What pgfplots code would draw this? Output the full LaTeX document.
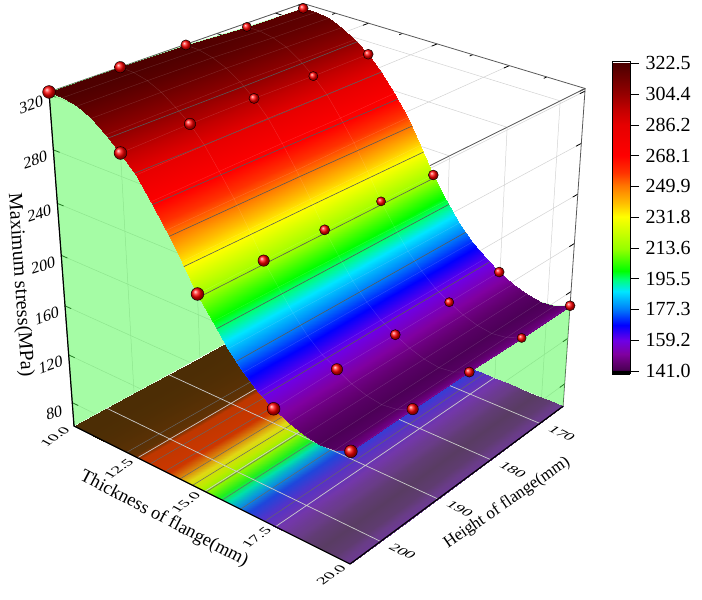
\documentclass[border=0pt]{standalone}
\usepackage{fontspec}
\setmainfont{Liberation Serif}
\usepackage{pgfplots}
\usepackage{pgfplotstable}
\pgfplotsset{compat=1.18}
\usetikzlibrary{plotmarks}

% camera fit from the box corners, the reference is a perspective view
\makeatletter
\def\perspoint#1#2#3{\begingroup
  \pgfmathsetmacro\pa{((#1)-10)/10}%
  \pgfmathsetmacro\pb{(205-(#2))/40}%
  \pgfmathsetmacro\pc{((#3)-60)/262}%
  \pgfmathsetmacro\pw{1-0.1002*\pa+0.1525*\pb-0.09*\pc}%
  \pgfmathsetmacro\px{(74+241*\pa+277.5*\pb-29.4*\pc)/\pw}%
  \pgfmathsetmacro\py{600-(426+81.5*\pa-80*\pb-342.3*\pc)/\pw}%
  \global\pgf@x=\px pt\relax
  \global\pgf@y=\py pt\relax
\endgroup}
\makeatother

\pgfplotsset{
  colormap={stress}{
    rgb255(0pt)=(70,0,80); rgb255(5pt)=(100,0,115); rgb255(10pt)=(128,0,160); rgb255(18pt)=(110,0,230);
    rgb255(27pt)=(0,0,255); rgb255(36pt)=(0,120,250); rgb255(47pt)=(0,230,255); rgb255(54pt)=(0,255,120);
    rgb255(59pt)=(0,255,0); rgb255(72pt)=(150,255,0); rgb255(91pt)=(255,255,0); rgb255(99pt)=(255,190,0);
    rgb255(109pt)=(255,120,0); rgb255(117pt)=(255,50,0); rgb255(127pt)=(255,0,0); rgb255(145pt)=(230,0,0);
    rgb255(154pt)=(195,0,0); rgb255(163pt)=(150,0,0); rgb255(174pt)=(105,0,0); rgb255(181.5pt)=(75,0,0)},
  colormap={floor}{
    rgb255(0pt)=(85,60,90); rgb255(5pt)=(105,60,135); rgb255(11pt)=(115,55,170); rgb255(19pt)=(85,50,200);
    rgb255(29pt)=(30,70,220); rgb255(39pt)=(10,150,220); rgb255(49pt)=(0,225,170); rgb255(59pt)=(30,240,30);
    rgb255(72pt)=(140,245,0); rgb255(84pt)=(190,235,0); rgb255(99pt)=(225,215,20); rgb255(114pt)=(215,120,10);
    rgb255(124pt)=(205,55,0); rgb255(153pt)=(190,55,0); rgb255(159pt)=(95,50,5); rgb255(181.5pt)=(75,45,5)},
  colormap={whitemesh}{color=(white) color=(white)},
}

\pgfplotstableread{
t h z
10 165 318
10 175 319
10 185 321.5
10 195 322
10 205 322
10.5 165 318
10.5 175 319
10.5 185 321
10.5 195 321.5
10.5 205 321.5
11 165 316.5
11 175 317
11 185 318.5
11 195 319
11 205 319
11.5 165 312
11.5 175 313
11.5 185 314
11.5 195 314
11.5 205 314
12 165 305.5
12 175 306
12 185 307
12 195 306.5
12 205 306
12.5 165 297
12.5 175 297
12.5 185 298
12.5 195 298
12.5 205 297
13 165 286
13 175 286
13 185 286.5
13 195 286
13 205 285
13.5 165 272
13.5 175 271
13.5 185 271
13.5 195 270.5
13.5 205 270
14 165 255.5
14 175 255
14 185 254
14 195 254
14 205 253.5
14.5 165 236.5
14.5 175 236
14.5 185 235.5
14.5 195 235
14.5 205 235
15 165 215.5
15 175 215.5
15 185 215.5
15 195 215.5
15 205 215.5
15.5 165 198
15.5 175 198.5
15.5 185 199
15.5 195 199.5
15.5 205 199.5
16 165 183
16 175 183
16 185 183.5
16 195 184
16 205 184
16.5 165 171
16.5 175 171
16.5 185 171
16.5 195 171
16.5 205 171
17 165 161.5
17 175 161
17 185 161
17 195 161
17 205 161
17.5 165 154
17.5 175 154
17.5 185 154
17.5 195 154.5
17.5 205 153.5
18 165 148
18 175 148
18 185 148
18 195 148
18 205 148
18.5 165 144
18.5 175 144
18.5 185 144
18.5 195 144
18.5 205 144
19 165 142
19 175 142
19 185 142
19 195 142
19 205 142
19.5 165 143.5
19.5 175 143.5
19.5 185 143.5
19.5 195 143.5
19.5 205 143.5
20 165 148
20 175 148
20 185 148.5
20 195 149
20 205 148
}\surfdata

% iso-stress lines, at the colour bar ticks
\pgfplotstableread{
t h z
12.09 165 304.4
12.12 185 304.4
12.08 205 304.4
nan nan nan
13.02 165 286.2
13.02 185 286.2
12.97 205 286.2
nan nan nan
13.62 165 268.1
13.55 185 268.1
13.53 205 268.1
nan nan nan
14.17 165 249.9
14.11 185 249.9
14.09 205 249.9
nan nan nan
14.62 165 231.8
14.58 185 231.8
14.56 205 231.8
nan nan nan
15.05 165 213.6
15.05 185 213.6
15.05 205 213.6
nan nan nan
15.6 165 195.5
15.62 185 195.5
15.63 205 195.5
nan nan nan
16.25 165 177.3
16.27 185 177.3
16.28 205 177.3
nan nan nan
17.13 165 159.2
17.13 185 159.2
17.13 205 159.2
}\contourdata

\begin{document}
\begin{tikzpicture}[x=1pt,y=1pt]
\path[use as bounding box] (0,0) rectangle (702,600);
\begin{axis}[
  at={(305pt,299.8pt)}, anchor=origin,
  execute at begin axis={\let\pgfplotsqpointxyz\perspoint},
  disabledatascaling,
  x={(26.7pt,-12.4pt)}, y={(-5.55pt,-3.6pt)}, z={(0pt,1.26pt)},
  xmin=10, xmax=20, ymin=165, ymax=205, zmin=60, zmax=322,
  xtick={10,12.5,15,17.5,20}, ytick={170,180,190,200}, ztick={80,120,...,320},
  minor x tick num=1, minor y tick num=1,
  tick align=inside, tick style={black, thick}, major tick length=7pt, minor tick length=4pt,
  xtick pos=left, ytick pos=left, ztick pos=left,
  grid=major, grid style={gray!35, line width=0.5pt},
  axis line style={gray!70!black, line width=0.8pt},
  clip=false,
  xticklabel style={/pgf/number format/.cd, fixed, fixed zerofill, precision=1, /tikz/.cd,
    anchor=center, xshift=-19pt, yshift=-11pt, cm={0.81,0.59,-0.68,0.37,(0,0)}, font=\fontsize{17}{19}\selectfont},
  yticklabel style={/pgf/number format/.cd, fixed, /tikz/.cd,
    anchor=center, xshift=22pt, yshift=-10pt, cm={0.89,-0.45,0.62,0.46,(0,0)}, font=\fontsize{17}{19}\selectfont},
  zticklabel style={anchor=center, xshift=-18pt, yshift=-10pt, cm={0.95,0.32,-0.08,1,(0,0)}, font=\fontsize{16.5}{18}\selectfont},
  /pgf/number format/assume math mode=true,
  label style={font=\fontsize{18.5}{20}\selectfont},
  xlabel={Thickness of flange(mm)}, ylabel={Height of flange(mm)}, zlabel={Maximum stress(MPa)},
  xlabel style={at={(164pt,81pt)}, anchor=center, rotate=-27.6},
  ylabel style={at={(507pt,97pt)}, anchor=center, rotate=34.7, font=\fontsize{17}{19}\selectfont},
  zlabel style={at={(20pt,315pt)}, anchor=center, rotate=-176, font=\fontsize{20}{22}\selectfont},
  point meta min=141, point meta max=322.5,
]
% walls under the surface
\addplot3[draw=none, fill={rgb,255:red,75;green,249;blue,75}, fill opacity=0.5] coordinates {
  (10,205,60) (10,205,322) (10,195,322) (10,185,321.5) (10,175,319) (10,165,318) (10,165,60)} \closedcycle;
\addplot3[draw=none, fill={rgb,255:red,75;green,249;blue,75}, fill opacity=0.5] coordinates {
  (15,165,60) (15,165,215.5) (15.5,165,198) (16,165,183) (16.5,165,171) (17,165,161.5)
  (17.5,165,154) (18,165,148) (18.5,165,144) (19,165,142) (19.5,165,143.5) (20,165,148) (20,165,60)} \closedcycle;
% projection on the floor
\addplot3[surf, shader=interp, colormap name=floor, mesh/rows=5, mesh/cols=21, mesh/ordering=y varies,
  point meta=\thisrow{z}] table[x=t, y=h, z expr=60] {\surfdata};
\addplot3[black!60, line width=0.5pt, unbounded coords=jump] table[x=t, y=h, z expr=60] {\contourdata};
% floor grid
\addplot3[white!60!gray, line width=0.7pt, unbounded coords=jump] coordinates {
  (12.5,165,60) (12.5,205,60) (nan,nan,nan) (15,165,60) (15,205,60) (nan,nan,nan) (17.5,165,60) (17.5,205,60) (nan,nan,nan)
  (10,170,60) (20,170,60) (nan,nan,nan) (10,180,60) (20,180,60) (nan,nan,nan) (10,190,60) (20,190,60) (nan,nan,nan) (10,200,60) (20,200,60)};
% the surface
\addplot3[surf, shader=interp, colormap name=stress, mesh/rows=5, mesh/cols=21, mesh/ordering=y varies,
  point meta=\thisrow{z}] table[x=t, y=h, z=z] {\surfdata};
\addplot3[mesh, colormap name=whitemesh, opacity=0.08, line width=0.4pt, mesh/rows=5, mesh/cols=21, mesh/ordering=y varies,
  point meta=\thisrow{z}] table[x=t, y=h, z=z] {\surfdata};
\addplot3[black!65, line width=0.6pt, unbounded coords=jump] table[x=t, y=h, z=z] {\contourdata};
% measured points
\addplot3[only marks, mark=ball, mark size=5pt, mark options={ball color=red}] coordinates {
  (10,165,318) (12.5,165,297) (15,165,215.5) (17.5,165,154) (20,165,148)};
\addplot3[only marks, mark=ball, mark size=4.6pt, mark options={ball color=red}] coordinates {
  (10,175,319) (12.5,175,297) (15,175,215.5) (17.5,175,154) (20,175,148)};
\addplot3[only marks, mark=ball, mark size=5.1pt, mark options={ball color=red}] coordinates {
  (10,185,321.5) (12.5,185,298) (15,185,215.5) (17.5,185,154) (20,185,148.5)};
\addplot3[only marks, mark=ball, mark size=5.7pt, mark options={ball color=red}] coordinates {
  (10,195,322) (12.5,195,298) (15,195,215.5) (17.5,195,154.5) (20,195,149)};
\addplot3[only marks, mark=ball, mark size=6.4pt, mark options={ball color=red}] coordinates {
  (10,205,322) (12.5,205,297) (15,205,215.5) (17.5,205,153.5) (20,205,148)};
% front edges are black
\draw[black, line width=1.2pt] (axis cs:10,205,322) -- (axis cs:10,205,60) -- (axis cs:20,205,60) -- (axis cs:20,165,60);
\end{axis}

% colour bar
\begin{axis}[
  at={(612pt,226pt)}, anchor=south west, scale only axis, width=18pt, height=313pt,
  view={0}{90}, xmin=0, xmax=1, ymin=139.23, ymax=323.98,
  xtick=\empty, ytick={141,159.2,177.3,195.5,213.6,231.8,249.9,268.1,286.2,304.4,322.5},
  ytick pos=right, yticklabel pos=right, tick align=outside, major tick length=9pt,
  tick style={black, line width=0.8pt}, axis line style={black, line width=0.8pt},
  axis on top,
  /pgf/number format/.cd, fixed, fixed zerofill, precision=1, assume math mode=true, /pgfplots/.cd,
  yticklabel style={font=\fontsize{20}{22}\selectfont, xshift=3pt},
  colormap name=stress, point meta min=141, point meta max=322.5,
]
\addplot3[surf, shader=interp, point meta=\thisrow{z}, mesh/rows=2, mesh/cols=2] table {
x y z
0 141 141
1 141 141
0 322.5 322.5
1 322.5 322.5
};
\addplot[fill=black, draw=none] coordinates {(0,139.23) (1,139.23) (1,141) (0,141)} \closedcycle;
\end{axis}
\end{tikzpicture}
\end{document}
